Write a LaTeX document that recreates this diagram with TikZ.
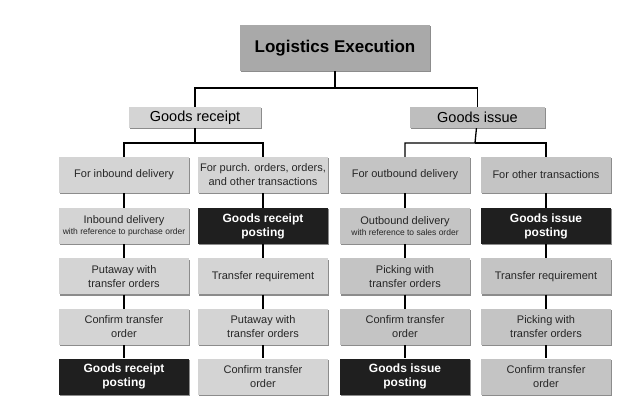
\documentclass[tikz,border=0pt]{standalone}
\usepackage{fontspec}
\setmainfont{Liberation Sans}
\usepackage{tikz}
\usetikzlibrary{shadows}

\definecolor{topfill}{HTML}{A9A9A9}
\definecolor{lightfill}{HTML}{D4D4D4}
\definecolor{darkfill}{HTML}{C4C4C4}
\definecolor{issuefill}{HTML}{BEBEBE}
\definecolor{postfill}{HTML}{1F1F1F}

\tikzset{
  boxshadow/.style={drop shadow={shadow xshift=1.2pt,shadow yshift=-1.2pt,fill=black!45,opacity=1}},
  lightbox/.style={fill=lightfill,boxshadow,minimum width=130pt,minimum height=36pt,
    inner sep=1pt,align=center,text=black!85,font=\fontsize{11}{14}\selectfont},
  darkbox/.style={lightbox,fill=darkfill},
  postbox/.style={lightbox,fill=postfill,text=white,font=\bfseries\fontsize{12}{14}\selectfont},
  headbox/.style={fill=lightfill,boxshadow,minimum width=132pt,minimum height=21pt,
    inner sep=1pt,font=\fontsize{14.5}{16}\selectfont},
  conn/.style={line width=1.3pt}
}

\begin{document}
\begin{tikzpicture}[x=1pt,y=-1pt]
  \useasboundingbox[fill=white] (0,0) rectangle (640,403);

  \draw (335,48) node[fill=topfill,boxshadow,minimum width=190pt,minimum height=46pt,
     font=\bfseries\fontsize{17}{20}\selectfont] (LE) {Logistics Execution};

  \draw (195,117.5) node[headbox] (GR) {Goods receipt};
  \draw (477.5,117.5) node[headbox,fill=issuefill,minimum width=135pt] (GI) {Goods issue};

  \coordinate (busLE) at (335,88);
  \coordinate (busGR) at (195,143);
  \coordinate (busGI) at (475,143);

  % goods receipt, inbound delivery
  \draw (124,175) node[lightbox] (inb) {For inbound delivery};
  \draw (124,226) node[lightbox] (inbdel) {Inbound delivery\\[-3pt]{\fontsize{8.5}{10}\selectfont with reference to purchase order}};
  \draw (124,276.5) node[lightbox] (putaway) {Putaway with\\transfer orders};
  \draw (124,327) node[lightbox] (confirm) {Confirm transfer\\order};
  \draw (124,376.5) node[postbox] (grpost) {Goods receipt\\posting};

  % goods receipt, other transactions
  \draw (263,175) node[lightbox] (purch) {For purch. orders, orders,\\and other transactions};
  \draw (263,226) node[postbox] (grpost2) {Goods receipt\\posting};
  \draw (263,276.5) node[lightbox] (treq) {Transfer requirement};
  \draw (263,327) node[lightbox] (putaway2) {Putaway with\\transfer orders};
  \draw (263,376.5) node[lightbox] (confirm2) {Confirm transfer\\order};

  % goods issue, outbound delivery
  \draw (405,175) node[darkbox] (outb) {For outbound delivery};
  \draw (405,226) node[darkbox] (outbdel) {Outbound delivery\\[-3pt]{\fontsize{8.5}{10}\selectfont with reference to sales order}};
  \draw (405,276.5) node[darkbox] (picking) {Picking with\\transfer orders};
  \draw (405,327) node[darkbox] (confirm3) {Confirm transfer\\order};
  \draw (405,376.5) node[postbox] (gipost) {Goods issue\\posting};

  % goods issue, other transactions
  \draw (546,175) node[darkbox] (other) {For other transactions};
  \draw (546,226) node[postbox] (gipost2) {Goods issue\\posting};
  \draw (546,276.5) node[darkbox] (treq2) {Transfer requirement};
  \draw (546,327) node[darkbox] (picking2) {Picking with\\transfer orders};
  \draw (546,376.5) node[darkbox] (confirm4) {Confirm transfer\\order};

  \draw[conn] (LE) -- (busLE) -| (GR);
  \draw[conn] (busLE) -| (GI);
  \draw[conn] (GR) -- (busGR) -| (inb);
  \draw[conn] (busGR) -| (purch);
  \draw[conn] (GI) -- (busGI) -| (outb);
  \draw[conn] (busGI) -| (other);

  \path[conn] (inb) edge (inbdel) (inbdel) edge (putaway) (putaway) edge (confirm) (confirm) edge (grpost);
  \path[conn] (purch) edge (grpost2) (grpost2) edge (treq) (treq) edge (putaway2) (putaway2) edge (confirm2);
  \path[conn] (outb) edge (outbdel) (outbdel) edge (picking) (picking) edge (confirm3) (confirm3) edge (gipost);
  \path[conn] (other) edge (gipost2) (gipost2) edge (treq2) (treq2) edge (picking2) (picking2) edge (confirm4);
\end{tikzpicture}
\end{document}
